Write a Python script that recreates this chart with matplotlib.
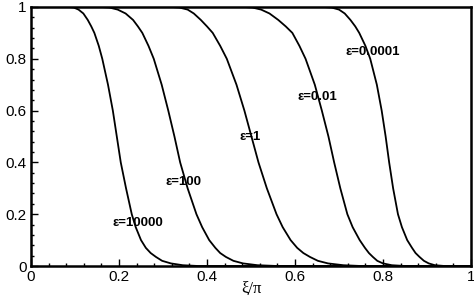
import matplotlib
matplotlib.use("Agg")
import matplotlib.pyplot as plt
from matplotlib.ticker import AutoMinorLocator

plt.rcParams['font.family'] = ['Liberation Sans', 'DejaVu Sans']

# profile levels (y values) shared by all curves
levels = [1, 1, 0.998, 0.99, 0.975, 0.95, 0.925, 0.9, 0.85, 0.8, 0.7, 0.6, 0.5, 0.4,
          0.3, 0.2, 0.15, 0.1, 0.07, 0.05, 0.035, 0.02, 0.01, 0.003, 0, 0]

xi_eps_10000 = [0, 0.085, 0.097, 0.108, 0.119, 0.129, 0.137, 0.144, 0.154, 0.162, 0.175,
                0.186, 0.195, 0.204, 0.216, 0.229, 0.238, 0.250, 0.261, 0.272, 0.284,
                0.298, 0.318, 0.345, 0.38, 1]
xi_eps_100 = [0, 0.16, 0.178, 0.197, 0.215, 0.232, 0.243, 0.253, 0.267, 0.279, 0.297,
              0.312, 0.326, 0.339, 0.356, 0.376, 0.389, 0.405, 0.419, 0.430, 0.443,
              0.460, 0.482, 0.515, 0.56, 1]
xi_eps_1 = [0, 0.32, 0.337, 0.356, 0.370, 0.386, 0.400, 0.413, 0.430, 0.445, 0.467,
            0.485, 0.501, 0.517, 0.536, 0.558, 0.572, 0.590, 0.605, 0.619, 0.634,
            0.652, 0.675, 0.71, 0.75, 1]
xi_eps_001 = [0, 0.485, 0.503, 0.523, 0.542, 0.562, 0.579, 0.594, 0.610, 0.624, 0.645,
              0.661, 0.676, 0.689, 0.703, 0.719, 0.731, 0.747, 0.759, 0.768, 0.777,
              0.787, 0.800, 0.82, 0.85, 1]
xi_eps_00001 = [0, 0.665, 0.683, 0.700, 0.713, 0.726, 0.737, 0.746, 0.760, 0.771, 0.786,
                0.797, 0.806, 0.814, 0.823, 0.834, 0.843, 0.855, 0.866, 0.874, 0.883,
                0.893, 0.904, 0.918, 0.94, 1]

curves = [xi_eps_10000, xi_eps_100, xi_eps_1, xi_eps_001, xi_eps_00001]

label_texts = ['ε=10000', 'ε=100', 'ε=1', 'ε=0.01', 'ε=0.0001']
label_x = [0.186, 0.305, 0.475, 0.605, 0.714]
label_y = [0.165, 0.325, 0.499, 0.652, 0.827]

x_ticks = [0, 0.2, 0.4, 0.6, 0.8, 1]
x_ticklabels = ['0', '0.2', '0.4', '0.6', '0.8', '1']
y_ticks = [0, 0.2, 0.4, 0.6, 0.8, 1]
y_ticklabels = ['0', '0.2', '0.4', '0.6', '0.8', '1']

fig = plt.figure(figsize=(4.74, 2.95), dpi=100)
ax = fig.add_axes([31/474, 29/295, 440/474, 259/295])

for xs in curves:
    ax.plot(xs, levels, color='black', lw=1.3, solid_joinstyle='round')

for t, x, y in zip(label_texts, label_x, label_y):
    ax.text(x, y, t, ha='left', va='center', fontsize=9.5, fontweight='bold')

ax.set_xlim(0, 1)
ax.set_ylim(0, 1)
ax.set_xticks(x_ticks)
ax.set_xticklabels(x_ticklabels)
ax.set_yticks(y_ticks)
ax.set_yticklabels(y_ticklabels)
ax.xaxis.set_minor_locator(AutoMinorLocator(5))
ax.yaxis.set_minor_locator(AutoMinorLocator(5))
ax.tick_params(which='both', direction='in', top=False, right=False, labelsize=11, width=1)
ax.tick_params(which='major', length=5, pad=3)
ax.tick_params(which='minor', length=2.5)
for s in ax.spines.values():
    s.set_linewidth(1.8)

ax.set_xlabel('ξ/π', fontsize=12, family=['Liberation Serif', 'DejaVu Serif'], labelpad=-3)

fig.savefig('out.png', dpi=100)
